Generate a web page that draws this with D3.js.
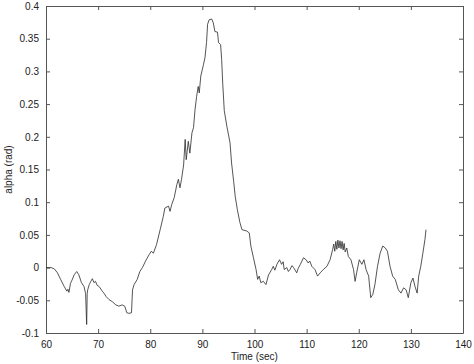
<!DOCTYPE html>
<html>
<head>
<meta charset="utf-8">
<script src="https://cdn.jsdelivr.net/npm/d3@7"></script>
<style>
  body { margin: 0; background: #fff; }
  svg { display: block; }
  text { font-family: "Liberation Sans", Arial, sans-serif; fill: #222; }
</style>
</head>
<body>
<div id="chart"></div>
<script>
// time samples (sec) and alpha (rad)
var time = [
  60.0, 61.0, 61.6, 62.2, 62.8, 63.5, 64.0, 64.2, 64.4, 64.7, 65.0, 65.4, 65.9, 66.3, 66.8, 67.3,
  67.6, 67.8, 67.9, 68.0, 68.3, 68.6, 68.9, 69.2, 69.5, 69.8, 70.2, 70.8, 71.2, 71.5, 72.1, 72.7,
  73.4, 74.0, 74.6, 75.1, 75.5, 75.9, 76.4, 76.6, 76.9, 77.5, 78.0, 78.5, 79.1, 79.8, 80.2, 80.6,
  81.2, 81.9, 82.5, 82.8, 83.5, 83.8, 84.1, 84.6, 85.1, 85.4, 85.7, 86.0, 86.4, 86.7, 86.9, 87.3,
  87.6, 88.0, 88.3, 88.6, 88.9, 89.2, 89.4, 89.7, 90.2, 90.5, 90.8, 91.0, 91.3, 91.8, 92.1, 92.4,
  92.9, 93.1, 93.5, 93.7, 93.9, 94.2, 94.7, 95.3, 95.6, 96.0, 96.3, 96.7, 97.2, 97.6, 98.5, 99.0,
  99.3, 99.8, 100.3, 100.6, 100.9, 101.2, 101.7, 102.2, 102.7,
  103.3, 103.6, 103.9, 104.3, 104.8, 105.2, 105.5, 105.7, 106.2, 106.5, 106.8, 107.2, 107.5,
  108.1, 108.4, 108.8, 109.4, 109.9, 110.3, 110.6, 111.0, 111.6, 112.1, 112.6, 113.2, 113.9,
  114.5, 115.0, 115.2, 115.4, 115.6, 115.8, 116.0, 116.2, 116.4, 116.6, 116.8, 117.0, 117.2,
  117.4, 117.7, 118.0, 118.5, 119.0, 119.3, 119.6, 120.1, 120.6, 121.0, 121.4, 121.9, 122.3, 122.7,
  123.1, 123.6, 124.1, 124.6, 125.1, 125.5, 126.0, 126.5, 127.0, 127.6, 128.1, 128.6, 129.1, 129.5,
  130.0, 130.4, 130.8, 131.2, 131.5, 131.9, 132.3, 132.7, 132.9
];
var alpha = [
  0.000, 0.000, -0.002, -0.008, -0.018, -0.029, -0.036, -0.033, -0.038, -0.024, -0.019, -0.011, -0.006, -0.011, -0.023, -0.029,
  -0.040, -0.087, -0.040, -0.034, -0.026, -0.021, -0.017, -0.023, -0.021, -0.027, -0.029, -0.036, -0.040, -0.044, -0.049, -0.052,
  -0.057, -0.059, -0.057, -0.059, -0.069, -0.070, -0.069, -0.034, -0.026, -0.018, -0.006, 0.000, 0.010, 0.020, 0.025, 0.022,
  0.035, 0.058, 0.078, 0.091, 0.094, 0.086, 0.096, 0.107, 0.127, 0.135, 0.122, 0.135, 0.157, 0.196, 0.165, 0.193,
  0.175, 0.206, 0.214, 0.242, 0.262, 0.277, 0.267, 0.293, 0.310, 0.321, 0.344, 0.372, 0.379, 0.380, 0.374, 0.361,
  0.360, 0.344, 0.341, 0.318, 0.282, 0.240, 0.216, 0.191, 0.160, 0.132, 0.109, 0.089, 0.069, 0.058, 0.056, 0.053,
  0.033, 0.015, -0.003, -0.018, -0.013, -0.023, -0.021, -0.026, -0.011,
  -0.003, 0.002, -0.004, 0.005, 0.012, 0.005, 0.009, -0.003, 0.000, -0.006, -0.003, 0.003, 0.000,
  -0.008, -0.001, 0.005, 0.015, 0.012, 0.007, 0.010, 0.002, -0.003, -0.013, -0.008, -0.003, 0.002,
  0.012, 0.028, 0.036, 0.025, 0.040, 0.028, 0.042, 0.030, 0.041, 0.029, 0.040, 0.027, 0.037,
  0.024, 0.030, 0.017, 0.012, -0.003, -0.021, -0.008, 0.012, 0.005, 0.012, -0.003, -0.013, -0.046, -0.041,
  -0.026, 0.002, 0.022, 0.033, 0.030, 0.025, 0.002, -0.013, -0.018, -0.034, -0.039, -0.031, -0.034, -0.046,
  -0.023, -0.016, -0.029, -0.039, -0.013, 0.002, 0.022, 0.043, 0.058
];
var xTicks = [60, 70, 80, 90, 100, 110, 120, 130, 140];
var yTicks = [-0.1, -0.05, 0, 0.05, 0.1, 0.15, 0.2, 0.25, 0.3, 0.35, 0.4];

var W = 474, H = 364;
var margin = {top: 6, right: 11, bottom: 31, left: 46},
    width = W - margin.left - margin.right,
    height = H - margin.top - margin.bottom;

var svg = d3.select("#chart").append("svg")
    .attr("width", W)
    .attr("height", H)
  .append("g")
    .attr("transform", "translate(" + margin.left + "," + margin.top + ")");

var x = d3.scaleLinear().domain([60, 140]).range([0, width]);
var y = d3.scaleLinear().domain([-0.1, 0.4]).range([height, 0]);

var data = time.map(function(t, i) { return {t: t, a: alpha[i]}; });

// MATLAB style box with inward ticks on all four sides
function styleAxis(g) {
  g.select(".domain").attr("stroke", "#555").attr("stroke-width", 1);
  g.selectAll(".tick line").attr("stroke", "#555");
  g.selectAll(".tick text").style("font-size", "10px").attr("fill", "#222");
}

svg.append("g")
    .attr("transform", "translate(0," + height + ")")
    .call(d3.axisBottom(x).tickValues(xTicks).tickSizeInner(-4).tickSizeOuter(0).tickPadding(8))
    .call(styleAxis);
svg.append("g")
    .call(d3.axisTop(x).tickValues(xTicks).tickSizeInner(-4).tickSizeOuter(0).tickFormat(""))
    .call(styleAxis);
svg.append("g")
    .call(d3.axisLeft(y).tickValues(yTicks).tickSizeInner(-4).tickSizeOuter(0).tickPadding(7)
      .tickFormat(function(d) { return d3.format("")(+d.toFixed(2)).replace("−", "-"); }))
    .call(styleAxis);
svg.append("g")
    .attr("transform", "translate(" + width + ",0)")
    .call(d3.axisRight(y).tickValues(yTicks).tickSizeInner(-4).tickSizeOuter(0).tickFormat(""))
    .call(styleAxis);

svg.append("path")
    .datum(data)
    .attr("fill", "none")
    .attr("stroke", "#2a2a2a")
    .attr("stroke-width", 0.8)
    .attr("d", d3.line()
      .x(function(d) { return x(d.t); })
      .y(function(d) { return y(d.a); }));

svg.append("text")
    .attr("x", width / 2)
    .attr("y", height + 27)
    .attr("text-anchor", "middle")
    .style("font-size", "10px")
    .text("Time (sec)");

svg.append("text")
    .attr("transform", "rotate(-90)")
    .attr("x", -height / 2)
    .attr("y", -margin.left + 12)
    .attr("text-anchor", "middle")
    .style("font-size", "10px")
    .text("alpha (rad)");
</script>
</body>
</html>
